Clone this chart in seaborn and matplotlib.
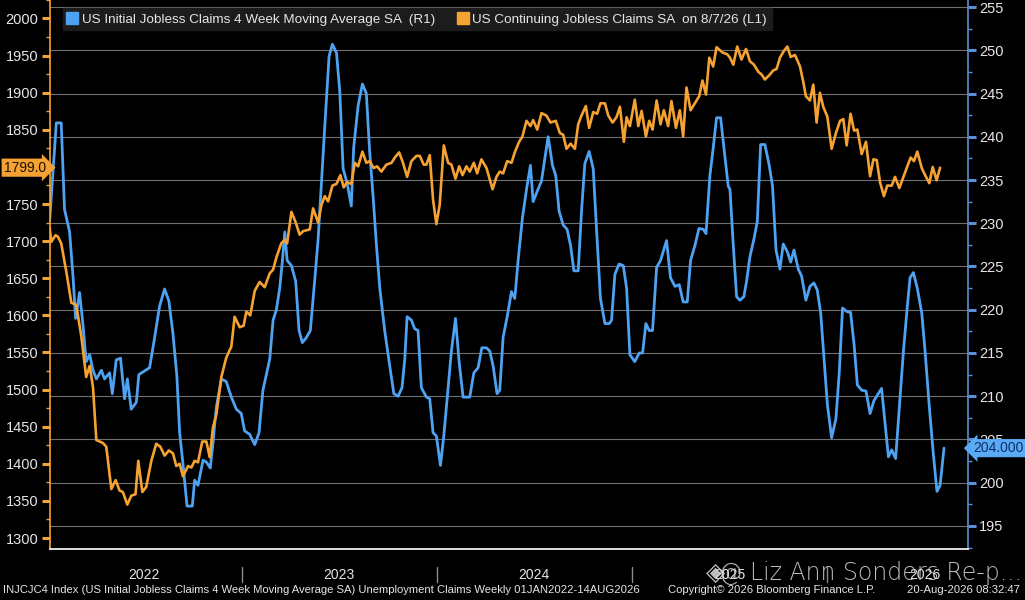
import numpy as np
import pandas as pd
import matplotlib
matplotlib.use("Agg")
import matplotlib.pyplot as plt
import matplotlib.transforms as mtransforms
from matplotlib.lines import Line2D
import seaborn as sns

# ---------------- data (decimal years) ----------------
blue_t = [2022.015, 2022.050, 2022.075, 2022.092, 2022.118, 2022.135, 2022.149, 2022.169, 2022.186, 2022.203,
          2022.221, 2022.238, 2022.255, 2022.281, 2022.297, 2022.323, 2022.337, 2022.357, 2022.379, 2022.400,
          2022.414, 2022.434, 2022.460, 2022.473, 2022.528, 2022.554, 2022.579, 2022.605, 2022.627, 2022.648,
          2022.668, 2022.682, 2022.699, 2022.720, 2022.747, 2022.759, 2022.776, 2022.802, 2022.819, 2022.839,
          2022.853, 2022.870, 2022.896, 2022.921, 2022.947, 2022.973, 2022.998, 2023.015, 2023.041, 2023.067,
          2023.089, 2023.109,
          2023.144, 2023.161, 2023.178, 2023.195, 2023.209, 2023.221, 2023.233, 2023.255, 2023.277, 2023.294,
          2023.311, 2023.332, 2023.352, 2023.374, 2023.392, 2023.409, 2023.426, 2023.448, 2023.465, 2023.486,
          2023.503, 2023.520, 2023.540, 2023.562, 2023.574, 2023.597, 2023.619, 2023.639, 2023.656, 2023.674,
          2023.691, 2023.708, 2023.733, 2023.759, 2023.780, 2023.802, 2023.822, 2023.836, 2023.848, 2023.870,
          2023.887, 2023.904, 2023.921, 2023.947, 2023.964, 2023.981, 2023.998, 2024.019, 2024.036, 2024.058,
          2024.075, 2024.096, 2024.115, 2024.135, 2024.169, 2024.190, 2024.212, 2024.231, 2024.255, 2024.272,
          2024.289, 2024.309,
          2024.323, 2024.340, 2024.361, 2024.383, 2024.400, 2024.417, 2024.439, 2024.460, 2024.480, 2024.494,
          2024.515, 2024.537, 2024.554, 2024.571, 2024.593, 2024.610, 2024.627, 2024.648, 2024.668, 2024.686,
          2024.703, 2024.725, 2024.742, 2024.759, 2024.781, 2024.802, 2024.819, 2024.839, 2024.862, 2024.884,
          2024.896, 2024.913, 2024.935, 2024.956, 2024.973, 2024.990, 2025.015, 2025.038, 2025.055, 2025.072,
          2025.089, 2025.106, 2025.127, 2025.147, 2025.178, 2025.198, 2025.221, 2025.243, 2025.263, 2025.284,
          2025.301, 2025.323, 2025.344, 2025.366, 2025.380, 2025.400, 2025.417, 2025.434, 2025.455, 2025.472,
          2025.494,
          2025.503, 2025.520, 2025.537, 2025.554, 2025.574, 2025.588, 2025.605, 2025.626, 2025.643, 2025.660,
          2025.682, 2025.704, 2025.721, 2025.739, 2025.759, 2025.776, 2025.797, 2025.814, 2025.831, 2025.853,
          2025.870, 2025.892, 2025.913, 2025.933, 2025.950, 2025.968, 2025.985, 2026.002, 2026.024, 2026.046,
          2026.063, 2026.080, 2026.101, 2026.121, 2026.139, 2026.156, 2026.178, 2026.200, 2026.221, 2026.241,
          2026.263, 2026.280, 2026.297, 2026.315, 2026.332, 2026.352, 2026.371, 2026.392, 2026.412, 2026.426,
          2026.443, 2026.463, 2026.486, 2026.503, 2026.525, 2026.545, 2026.564, 2026.580, 2026.600]
blue_v = [230.0, 241.6, 241.6, 231.6, 229.0, 224.0, 219.0, 222.0, 218.4, 214.0,
          214.8, 213.0, 212.0, 213.0, 212.0, 212.7, 210.3, 214.2, 214.4, 209.7,
          212.0, 208.5, 209.3, 212.5, 213.3, 216.8, 220.4, 222.4, 221.0, 217.2,
          212.3, 205.8, 202.2, 197.3, 197.3, 200.3, 199.7, 202.6, 202.4, 201.7,
          204.6, 208.7, 212.0, 211.7, 209.9, 208.5, 208.0, 206.0, 205.6, 204.4,
          205.8, 210.7,
          214.3, 218.8, 220.0, 222.5, 225.7, 229.0, 225.7, 225.1, 223.3, 217.6,
          216.2, 216.8, 217.6, 223.3, 228.2, 234.7, 241.2, 249.3, 250.7, 249.7,
          245.2, 236.3, 234.7, 232.0, 238.7, 243.6, 246.1, 245.0, 238.3, 233.0,
          227.4, 222.5, 217.6, 213.5, 210.3, 210.0, 211.0, 214.3, 219.2, 218.8,
          217.8, 217.6, 211.0, 209.9, 209.7, 205.8, 205.4, 202.0, 205.4, 211.0,
          215.2, 219.0, 213.9, 209.9, 209.9, 212.7, 213.3, 215.6, 215.6, 215.2,
          213.5, 210.3,
          210.7, 216.8, 219.2, 222.1, 221.3, 225.7, 230.6, 233.9, 236.7, 232.5,
          233.7, 234.9, 237.5, 240.0, 236.7, 235.5, 231.4, 229.8, 229.3, 227.4,
          224.5, 224.5, 231.4, 236.9, 238.3, 236.3, 229.3, 221.3, 218.4, 218.4,
          218.8, 224.1, 225.3, 225.1, 222.5, 214.8, 214.0, 215.0, 215.0, 218.4,
          217.6, 217.6, 224.9, 225.7, 228.0, 223.7, 222.7, 222.9, 220.9, 220.9,
          225.7, 227.4, 229.4, 229.3, 228.8, 235.5, 238.7, 242.2, 242.2, 238.7,
          234.3,
          233.9, 227.4, 221.5, 221.1, 221.5, 223.3, 226.1, 228.2, 230.2, 239.1,
          239.1, 236.7, 234.3, 226.9, 224.7, 227.6, 226.7, 225.5, 226.9, 224.7,
          223.9, 221.1, 222.7, 223.1, 222.3, 219.6, 214.3, 209.1, 205.2, 207.4,
          212.7, 220.2, 219.8, 219.7, 216.0, 211.3, 210.7, 210.6, 208.0, 209.5,
          210.3, 210.9, 207.0, 203.0, 203.8, 202.8, 208.7, 215.2, 220.4, 223.7,
          224.3, 222.5, 219.6, 215.2, 208.7, 203.4, 199.0, 199.7, 204.0]

orange_t = [2022.015, 2022.024, 2022.046, 2022.058, 2022.075, 2022.101, 2022.127, 2022.152, 2022.178, 2022.203,
            2022.221, 2022.238, 2022.255, 2022.289, 2022.306, 2022.332, 2022.354, 2022.374, 2022.391, 2022.414,
            2022.434, 2022.456, 2022.470, 2022.491, 2022.511, 2022.537, 2022.562, 2022.583, 2022.605, 2022.627,
            2022.648, 2022.665, 2022.682, 2022.699, 2022.725, 2022.742, 2022.759, 2022.776, 2022.798, 2022.819,
            2022.836, 2022.853, 2022.870, 2022.896, 2022.921, 2022.947, 2022.964, 2022.990, 2023.010, 2023.024,
            2023.044, 2023.067, 2023.092, 2023.118,
            2023.144, 2023.161, 2023.178, 2023.203, 2023.221, 2023.233, 2023.255, 2023.277, 2023.297, 2023.315,
            2023.349, 2023.366, 2023.392, 2023.409, 2023.426, 2023.443, 2023.465, 2023.486, 2023.506, 2023.523,
            2023.540, 2023.562, 2023.580, 2023.597, 2023.619, 2023.639, 2023.656, 2023.677, 2023.694, 2023.716,
            2023.742, 2023.768, 2023.785, 2023.807, 2023.827, 2023.848, 2023.870, 2023.896, 2023.913, 2023.933,
            2023.947, 2023.964, 2023.981, 2023.998, 2024.015, 2024.036, 2024.058, 2024.075, 2024.096, 2024.115,
            2024.132, 2024.152, 2024.169, 2024.190, 2024.207, 2024.229, 2024.255, 2024.286, 2024.306,
            2024.323, 2024.340, 2024.361, 2024.383, 2024.400, 2024.422, 2024.439, 2024.460, 2024.480, 2024.494,
            2024.515, 2024.537, 2024.562, 2024.583, 2024.610, 2024.631, 2024.648, 2024.665, 2024.686, 2024.708,
            2024.725, 2024.742, 2024.764, 2024.781, 2024.802, 2024.822, 2024.839, 2024.862, 2024.879, 2024.901,
            2024.921, 2024.939, 2024.959, 2024.973, 2024.990, 2025.015, 2025.033, 2025.050, 2025.072, 2025.089,
            2025.106, 2025.127, 2025.147, 2025.164, 2025.186, 2025.203, 2025.226, 2025.246, 2025.263, 2025.280,
            2025.301, 2025.323, 2025.345, 2025.362, 2025.380, 2025.397, 2025.417, 2025.434, 2025.465, 2025.489,
            2025.503, 2025.520, 2025.540, 2025.562, 2025.585, 2025.605, 2025.626, 2025.648, 2025.665, 2025.682,
            2025.704, 2025.725, 2025.742, 2025.759, 2025.780, 2025.797, 2025.814, 2025.836, 2025.862, 2025.879,
            2025.892, 2025.913, 2025.930, 2025.947, 2025.964, 2025.981, 2026.002, 2026.024, 2026.046, 2026.067,
            2026.084, 2026.101, 2026.121, 2026.139, 2026.156, 2026.178, 2026.200, 2026.221, 2026.238, 2026.255,
            2026.272, 2026.292, 2026.309, 2026.332, 2026.349, 2026.371, 2026.392, 2026.412, 2026.429, 2026.446,
            2026.463, 2026.486, 2026.503, 2026.525, 2026.542, 2026.562, 2026.580]
orange_v = [1720, 1699, 1708, 1706, 1697, 1659, 1617, 1614, 1572, 1517,
            1532, 1503, 1432, 1428, 1423, 1366, 1378, 1364, 1362, 1345,
            1357, 1359, 1404, 1362, 1369, 1404, 1427, 1423, 1411, 1418,
            1414, 1397, 1400, 1383, 1397, 1395, 1404, 1402, 1430, 1430,
            1409, 1449, 1466, 1517, 1543, 1558, 1598, 1584, 1586, 1605,
            1600, 1633, 1645, 1638,
            1656.8, 1661.5, 1678.0, 1697.0, 1701.6, 1697.0, 1739.4, 1725.2, 1708.7, 1713.4,
            1715.8, 1744.1, 1725.2, 1748.8, 1760.6, 1753.5, 1774.8, 1777.1, 1789.0, 1772.4,
            1779.5, 1777.1, 1805.5, 1800.8, 1820.6, 1805.5, 1807.8, 1798.4, 1800.8, 1793.7,
            1803.1, 1805.5, 1812.6, 1819.6, 1805.5, 1786.6, 1807.8, 1814.9, 1814.9, 1803.1,
            1803.1, 1815.9, 1755.9, 1722.9, 1748.8, 1829.0, 1805.5, 1803.1, 1784.2, 1800.8,
            1789.0, 1800.8, 1793.7, 1805.5, 1791.3, 1810.2, 1798.4, 1770.0, 1786.6,
            1793.7, 1791.3, 1807.8, 1805.5, 1819.6, 1833.8, 1840.9, 1862.1, 1855.0, 1863.1,
            1850.3, 1872.5, 1869.2, 1859.8, 1862.1, 1845.6, 1843.3, 1824.4, 1831.4, 1824.4,
            1857.4, 1869.2, 1882.0, 1852.7, 1873.9, 1871.6, 1885.7, 1885.7, 1869.2, 1859.8,
            1866.9, 1881.0, 1833.8, 1866.9, 1855.0, 1890.5, 1855.0, 1875.4, 1840.9, 1862.1,
            1850.3, 1889.5, 1857.4, 1876.3, 1855.0, 1888.6, 1852.7, 1876.3, 1840.9, 1907.0,
            1876.3, 1885.7, 1895.2, 1916.4, 1897.5, 1947.1, 1935.3, 1961.3, 1954.1, 1951.8,
            1947.1, 1937.7, 1962.2, 1944.7, 1958.9, 1942.4, 1937.7, 1928.2, 1924.5, 1917.8,
            1923.5, 1930.1, 1932.0, 1947.1, 1956.6, 1962.2, 1948.1, 1950.9, 1935.3, 1914.1,
            1895.2, 1889.5, 1910.8, 1859.8, 1899.9, 1881.0, 1867.8, 1824.4, 1845.6, 1862.1,
            1864.4, 1829.0, 1871.6, 1848.9, 1850.3, 1817.3, 1833.8, 1787.5, 1810.2, 1809.3,
            1779.5, 1760.6, 1774.8, 1774.8, 1786.6, 1771.5, 1786.6, 1800.8, 1812.6, 1807.8,
            1820.6, 1798.4, 1789.0, 1778.1, 1799.9, 1782.0, 1799.0]

years = [2022, 2023, 2024, 2025, 2026]
left_ticks = list(range(1300, 2001, 50))
right_ticks = list(range(195, 256, 5))
blue_label = "US Initial Jobless Claims 4 Week Moving Average SA  (R1)"
orange_label = "US Continuing Jobless Claims SA  on 8/7/26 (L1)"
blue_last_label = "204.000"
orange_last_label = "1799.0"
footer_left = "INJCJC4 Index (US Initial Jobless Claims 4 Week Moving Average SA) Unemployment Claims Weekly 01JAN2022-14AUG2026"
footer_mid = "Copyright\u00a9 2026 Bloomberg Finance L.P."
footer_right = "20-Aug-2026 08:32:47"
watermark_logo = "\u25c8"
watermark = "@ Liz Ann Sonders Re-p..."

# ---------------- style ----------------
BLUE = "#4ea2f2"
ORANGE = "#f6a232"
BG = "#000000"
TXT = "#e6e6e6"

sns.set_theme(style="dark", rc={
    "figure.facecolor": BG, "axes.facecolor": BG, "savefig.facecolor": BG,
    "axes.edgecolor": TXT, "text.color": TXT, "xtick.color": TXT, "ytick.color": TXT,
})
plt.rcParams["font.family"] = ["Liberation Sans", "DejaVu Sans"]

W, H = 1025, 600
fig = plt.figure(figsize=(W / 100, H / 100), dpi=100)
L, R, B, T = 49.5, 968.0, 549.0, 0.0
ax = fig.add_axes([L / W, (H - B) / H, (R - L) / W, (B - T) / H])
ax2 = ax.twinx()

df_o = pd.DataFrame({"t": orange_t, "v": orange_v})
df_b = pd.DataFrame({"t": blue_t, "v": blue_v})
sns.lineplot(data=df_b, x="t", y="v", ax=ax2, color=BLUE, lw=2.0, sort=False, estimator=None)
sns.lineplot(data=df_o, x="t", y="v", ax=ax, color=ORANGE, lw=1.9, sort=False, estimator=None)

ax.set_zorder(ax2.get_zorder() + 1)
ax.patch.set_visible(False)
ax2.patch.set_facecolor(BG)

ax.set_xlim(2022.015, 2026.723)
ax.set_ylim(1285.2, 2024.2)
ax2.set_ylim(192.34, 255.81)
for a in (ax, ax2):
    a.set_xlabel("")
    a.set_ylabel("")
    a.grid(False)

# gridlines on right-axis ticks
ax2.set_yticks(right_ticks)
ax2.set_yticks([v + 2.5 for v in right_ticks[:-1]] + [192.5], minor=True)
ax2.yaxis.grid(True, which="major", color="#6f6f6f", lw=0.8)
ax2.set_axisbelow(True)
ax2.tick_params(axis="y", which="major", direction="out", length=6, width=2.2, color="#5b8fd6",
                labelsize=10.5, labelcolor=TXT, pad=2)
ax2.tick_params(axis="y", which="minor", direction="out", length=3, width=1, color="#5b8fd6")

ax.set_yticks(left_ticks)
ax.set_yticks([v + 25 for v in left_ticks[:-1]] + [2025 - 0.1], minor=True)
ax.set_yticklabels(["" if v == 1800 else str(v) for v in left_ticks])
ax.tick_params(axis="y", which="major", direction="out", length=6, width=2.2, color=ORANGE,
               labelsize=10.5, labelcolor=TXT, pad=2)
ax.tick_params(axis="y", which="minor", direction="out", length=3, width=1, color=ORANGE)

# monthly ticks on x axis
months = [y + m / 12 for y in range(2022, 2027) for m in range(12)]
months = [m for m in months if 2022.02 < m < 2026.72]
ax.set_xticks(months)
ax.set_xticklabels([])
ax.tick_params(axis="x", which="major", direction="out", length=4, width=1, color=TXT)
ax2.tick_params(axis="x", which="both", length=0)

for a in (ax, ax2):
    a.spines["top"].set_visible(False)
ax.spines["left"].set_color(ORANGE)
ax.spines["left"].set_linewidth(1.2)
ax.spines["right"].set_visible(False)
ax.spines["bottom"].set_color("#f0f0f0")
ax.spines["bottom"].set_linewidth(1.3)
ax2.spines["left"].set_visible(False)
ax2.spines["bottom"].set_visible(False)
ax2.spines["right"].set_color("#5b8fd6")
ax2.spines["right"].set_linewidth(1.2)

# year labels and separators
bt = mtransforms.blended_transform_factory(ax.transData, ax.transAxes)
for y in years:
    ax.text(y + 0.5, -0.048, str(y), transform=bt, ha="center", va="center",
            fontsize=10, color=TXT)
    if y > 2022:
        ax.add_line(Line2D([y, y], [-0.032, -0.061], transform=bt, color="#8a8a8a", lw=1, clip_on=False))

# last value tags
lt = mtransforms.blended_transform_factory(ax.transAxes, ax.transData)
ax.text(-0.004, orange_v[-1], orange_last_label, transform=lt, ha="right", va="center", fontsize=10,
        color="#1a1000", bbox=dict(boxstyle="rarrow,pad=0.15", fc=ORANGE, ec="none"), zorder=10, clip_on=False)
rt = mtransforms.blended_transform_factory(ax2.transAxes, ax2.transData)
ax2.text(1.006, blue_v[-1], blue_last_label, transform=rt, ha="left", va="center", fontsize=10,
         color="#0d2f66", bbox=dict(boxstyle="larrow,pad=0.15", fc="#5aaaf5", ec="none"), zorder=10, clip_on=False)

# legend
handles = [Line2D([], [], marker="s", ls="", ms=8.5, color=BLUE),
           Line2D([], [], marker="s", ls="", ms=8.5, color=ORANGE)]
leg = fig.legend(handles, [blue_label, orange_label], loc="upper left", bbox_to_anchor=(63 / W, 1 - 8.5 / H),
                 ncol=2, frameon=True, facecolor="#1c1c1c", edgecolor="#1c1c1c", framealpha=1, fancybox=False,
                 fontsize=9.7, labelcolor=TXT, handlelength=0.7, handletextpad=0.35, columnspacing=1.7,
                 borderpad=0.35, borderaxespad=0)
leg.set_zorder(20)

# footer
fig.text(3 / W, 1 - 590 / H, footer_left, ha="left", va="center", fontsize=8.1, color=TXT)
fig.text(668 / W, 1 - 590 / H, footer_mid, ha="left", va="center", fontsize=8.1, color=TXT)
fig.text(1020 / W, 1 - 590 / H, footer_right, ha="right", va="center", fontsize=8.1, color=TXT)
fig.text(716 / W, 1 - 573 / H, watermark_logo, ha="center", va="center", fontsize=18, color="#d2d2d2",
         alpha=0.9, family=["DejaVu Sans"])
fig.text(1022 / W, 1 - 573 / H, watermark, ha="right", va="center", fontsize=17, color="#d2d2d2",
         alpha=0.9, family=["DejaVu Sans"], fontweight="light")

fig.savefig("out.png", dpi=100, facecolor=BG)
